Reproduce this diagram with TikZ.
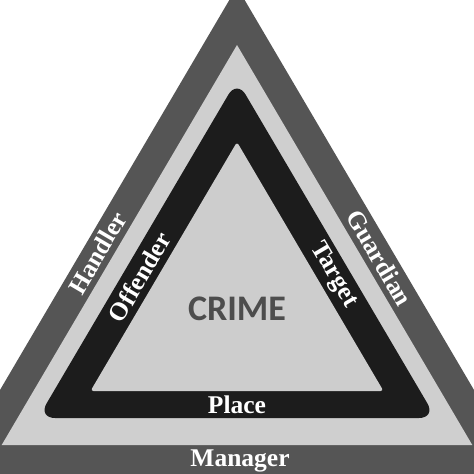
\documentclass[tikz,border=0pt]{standalone}
\usepackage{fontspec}
\newfontfamily\lblfont{Liberation Serif}
\newfontfamily\crimefont{Carlito}
\definecolor{outerdark}{HTML}{555555}
\definecolor{lightband}{HTML}{CFCFCF}
\definecolor{blackband}{HTML}{1C1C1C}
\definecolor{innerlight}{HTML}{CDCDCD}
\definecolor{crimetext}{HTML}{4D4D4D}
\begin{document}
\begin{tikzpicture}[x=1pt,y=-1pt,
  lbl/.style={text=white, font=\lblfont\bfseries\fontsize{25.5}{30}\selectfont, inner sep=0pt},
  crimelbl/.style={text=crimetext, font=\crimefont\bfseries\fontsize{36}{40}\selectfont, inner sep=0pt}]
\useasboundingbox (0,0) rectangle (474,474);
\clip (0,0) rectangle (474,474);
\fill[white] (0,0) rectangle (474,474);
% outer dark triangle
\fill[outerdark, rounded corners=14pt] (237,526) -- (554,526) -- (237,-13) -- (-80,526) -- cycle;
% light band
\fill[lightband] (237,45) -- (472.3,445) -- (1.7,445) -- cycle;
% black rounded triangle
\fill[blackband, rounded corners=17pt] (237,418) -- (436,418) -- (237,80) -- (38,418) -- cycle;
% inner light triangle
\fill[innerlight, rounded corners=3pt] (237,391) -- (383.5,391) -- (237,142) -- (90.5,391) -- cycle;
% labels
\node[crimelbl] (crime) at (237,309) {CRIME};
\node[lbl, anchor=base] (place) at (237,413) {Place};
\node[lbl, anchor=base] (manager) at (240,466) {Manager};
\node[lbl, rotate=59.5] (handler) at (97.5,253) {Handler};
\node[lbl, rotate=59.5] (offender) at (139.5,277) {Offender};
\node[lbl, rotate=-59.5] (target) at (333.5,275) {Target};
\node[lbl, rotate=-59.5] (guardian) at (379.5,258) {Guardian};
\end{tikzpicture}
\end{document}
